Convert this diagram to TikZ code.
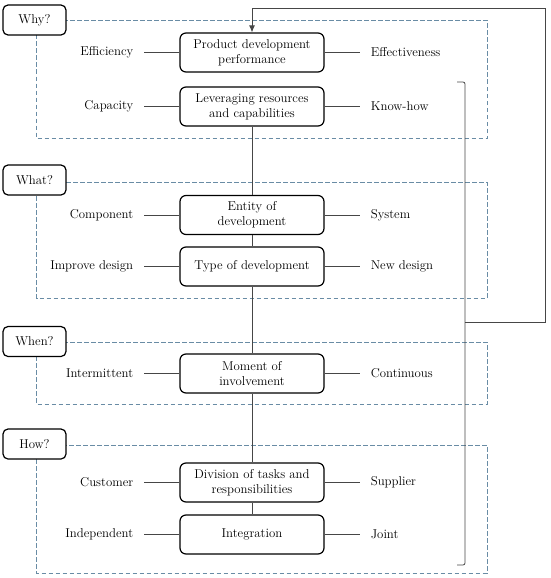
\documentclass[tikz,border=0pt]{standalone}
\usetikzlibrary{arrows.meta}
\definecolor{dashcol}{RGB}{105,140,165}
\definecolor{linecol}{RGB}{70,70,70}
\begin{document}
\begin{tikzpicture}[x=1pt,y=-1pt,
  font=\fontsize{12.8}{15}\selectfont,
  qbox/.style={draw=black,line width=1.2pt,rounded corners=5pt,fill=white,minimum width=63pt,minimum height=30pt,inner sep=0pt},
  mbox/.style={draw=black,line width=1.2pt,rounded corners=6pt,fill=white,minimum width=144pt,minimum height=39pt,inner sep=0pt,align=center},
  frame/.style={draw=dashcol,line width=0.9pt,dash pattern=on 4.5pt off 2.5pt},
  conn/.style={draw=linecol,line width=0.8pt},
  ltxt/.style={anchor=east,inner sep=0pt},
  rtxt/.style={anchor=west,inner sep=0pt}]
\useasboundingbox (0,0) rectangle (550,578);
% frames
\draw[frame] (36.5,20.5) rectangle (487,138.5);
\draw[frame] (36.5,182) rectangle (487,298);
\draw[frame] (36.5,342) rectangle (487,404);
\draw[frame] (36.5,445) rectangle (487,573);
% question boxes
\node[qbox] (why) at (34.5,20) {Why?};
\node[qbox] (what) at (34.5,180) {What?};
\node[qbox] (when) at (34.5,341.5) {When?};
\node[qbox] (how) at (34.5,444) {How?};
% main boxes
\node[mbox] (pdp) at (252,52.5) {Product development\\performance};
\node[mbox] (lev) at (252,106.5) {Leveraging resources\\and capabilities};
\node[mbox] (ent) at (252,215) {Entity of\\development};
\node[mbox] (typ) at (252,266.5) {Type of development};
\node[mbox] (mom) at (252,373.5) {Moment of\\involvement};
\node[mbox] (div) at (252,482.5) {Division of tasks and\\responsibilities};
\node[mbox] (int) at (252,534.5) {Integration};
% vertical connectors
\draw[conn] (lev.south) -- (ent.north);
\draw[conn] (ent.south) -- (typ.north);
\draw[conn] (typ.south) -- (mom.north);
\draw[conn] (mom.south) -- (div.north);
\draw[conn] (div.south) -- (int.north);
% side labels
\foreach \n/\l/\r in {pdp/Efficiency/Effectiveness, lev/Capacity/Know-how, ent/Component/System, typ/Improve design/New design, mom/Intermittent/Continuous, div/Customer/Supplier, int/Independent/Joint}{
  \node[ltxt] (\n L) at ([xshift=-46pt]\n.west) {\l};
  \node[rtxt] (\n R) at ([xshift=46pt]\n.east) {\r};
  \draw[conn] ([xshift=-35pt]\n.west) coordinate (\n a) -- (\n.west);
  \draw[conn] (\n.east) -- ([xshift=35pt]\n.east) coordinate (\n b);
}
% bracket and feedback
\coordinate (bt) at (457,82);
\coordinate (bb) at (457,565);
\coordinate (bj) at (465,322);
\coordinate (fr1) at (545,322);
\coordinate (fr2) at (545,8);
\coordinate (fr3) at (252,8);
\draw[conn,rounded corners=2pt] (bt) -- (465,82) -- (465,565) -- (bb);
\draw[conn,-{Latex[length=7pt,width=6pt]}] (bj) -- (fr1) -- (fr2) -- (fr3) -- (pdp.north);
\end{tikzpicture}
\end{document}
